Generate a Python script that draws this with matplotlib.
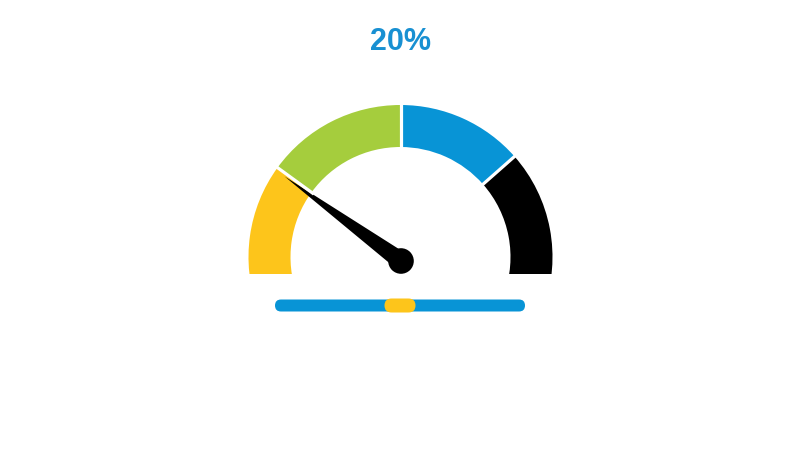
import numpy as np
import matplotlib.pyplot as plt
from matplotlib.patches import Wedge, Circle, Rectangle, FancyBboxPatch, Polygon

# gauge data
value = 20
title = '20%'
band_edges = [0, 20, 50, 77, 100]
band_colors = ['#FDC51B', '#A5CD3D', '#0894D6', '#000000']
slider_pos = 0.5

W, H = 800, 450
fig = plt.figure(figsize=(8, 4.5), dpi=100)
ax = fig.add_axes([0, 0, 1, 1])
ax.set_xlim(0, W)
ax.set_ylim(0, H)
ax.axis('off')

cx, cy = 400.5, H - 257
r_out, r_in = 152, 110
cut = H - 274
clip = Rectangle((0, cut), W, H, transform=ax.transData)


def pct2ang(p):
    return 180 - p * 1.8


for i, c in enumerate(band_colors):
    a0 = pct2ang(band_edges[i])
    a1 = pct2ang(band_edges[i + 1])
    if band_edges[i] == 0:
        a0 = 200
    if band_edges[i + 1] == 100:
        a1 = -20
    w = Wedge((cx, cy), r_out, a1, a0, width=r_out - r_in, color=c, lw=0)
    ax.add_patch(w)
    w.set_clip_path(clip)

# white gaps between bands
for p in band_edges[1:-1]:
    a = np.radians(pct2ang(p))
    ax.plot([cx + (r_in - 3) * np.cos(a), cx + (r_out + 3) * np.cos(a)],
            [cy + (r_in - 3) * np.sin(a), cy + (r_out + 3) * np.sin(a)],
            color='white', lw=2.3, solid_capstyle='butt')

# needle
hx, hy = 401, H - 261
a = np.radians(pct2ang(value))
L = 144
tip = (hx + L * np.cos(a), hy + L * np.sin(a))
px, py = -np.sin(a), np.cos(a)
bw = 9
needle = Polygon([tip, (hx + bw * px, hy + bw * py), (hx - bw * px, hy - bw * py)],
                 closed=True, color='black', lw=0)
ax.add_patch(needle)
ax.add_patch(Circle((hx, hy), 12.8, color='black', lw=0))

# slider bar
by = H - 305.5
ax.add_patch(FancyBboxPatch((275 + 6, by), 250 - 12, 0,
                            boxstyle='round,pad=6',
                            color='#0894D6', lw=0))
tx = 275 + 250 * slider_pos
ax.add_patch(FancyBboxPatch((tx - 15.5 + 7, by), 31 - 14, 0,
                            boxstyle='round,pad=7',
                            color='#FDC51B', lw=0))

ax.text(400.5, H - 42, title, ha='center', va='center', fontsize=22,
        fontweight='bold', color='#1890D2', family='Liberation Sans')

fig.savefig('out.png', dpi=100)
